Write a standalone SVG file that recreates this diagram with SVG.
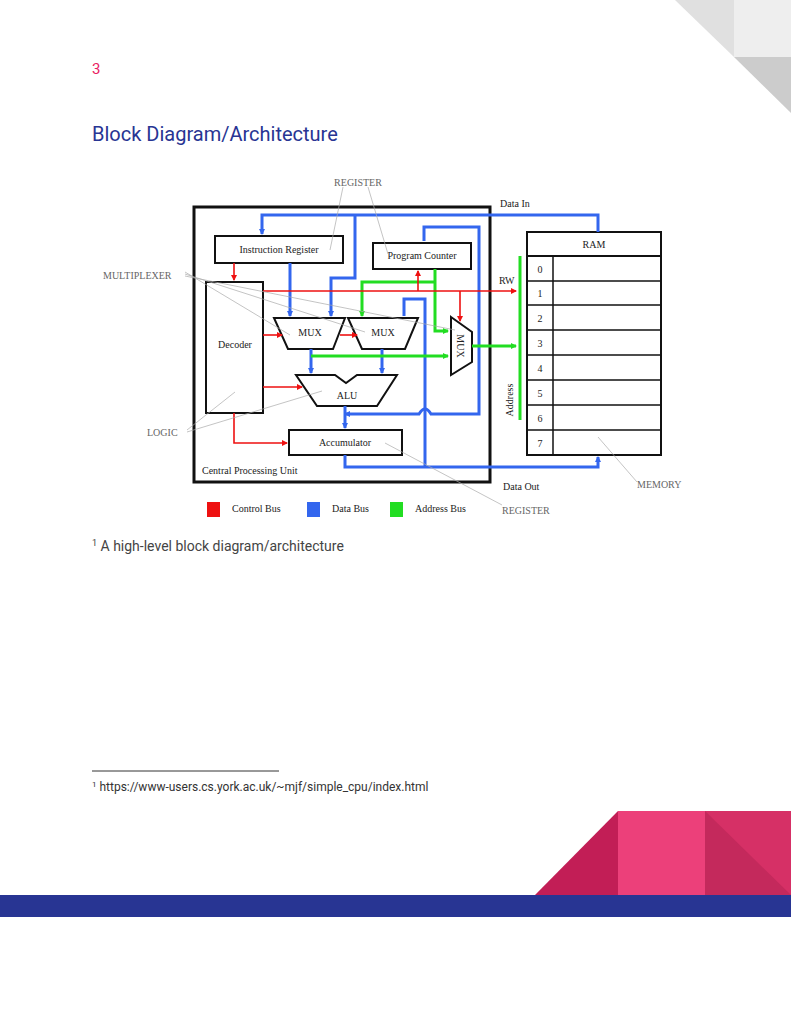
<svg xmlns="http://www.w3.org/2000/svg" width="791" height="1024" viewBox="0 0 791 1024">
<defs>
<marker id="ab" markerWidth="6" markerHeight="6" refX="5" refY="3" orient="auto" markerUnits="userSpaceOnUse" viewBox="0 0 6 6"><path d="M0,0 L6,3 L0,6 z" fill="#3366ee"/></marker>
<marker id="ar" markerWidth="6" markerHeight="6" refX="5" refY="3" orient="auto" markerUnits="userSpaceOnUse" viewBox="0 0 6 6"><path d="M0,0 L6,3 L0,6 z" fill="#ee1111"/></marker>
<marker id="ag" markerWidth="6" markerHeight="6" refX="5" refY="3" orient="auto" markerUnits="userSpaceOnUse" viewBox="0 0 6 6"><path d="M0,0 L6,3 L0,6 z" fill="#22dd22"/></marker>
</defs>
<style>
.box{fill:#fff;stroke:#111;stroke-width:2}
.t{font-family:"Liberation Serif",serif;font-size:10px;fill:#222}
.a{font-family:"Liberation Serif",serif;font-size:10px;fill:#666}
.b{fill:none;stroke:#3366ee;stroke-width:3}
.r{fill:none;stroke:#ee1111;stroke-width:1.6}
.g{fill:none;stroke:#22dd22;stroke-width:3}
.n{fill:none;stroke:#aaa;stroke-width:0.7}
</style>
<rect width="791" height="1024" fill="#fff"/>
<polygon points="675,0 734,0 734,57" fill="#e0e0e0"/>
<rect x="734" y="0" width="57" height="57" fill="#eeeeee"/>
<polygon points="734,57 791,57 791,113" fill="#cccccc"/>
<polygon points="535,895 618,811 618,895" fill="#c21e56"/>
<rect x="618" y="811" width="87" height="84" fill="#ec407a"/>
<rect x="705" y="811" width="86" height="84" fill="#d63066"/>
<polygon points="705,811 791,895 705,895" fill="#b82455" opacity="0.6"/>
<rect x="0" y="895" width="791" height="22" fill="#283593"/>
<text x="92" y="74" font-family="Roboto,sans-serif" font-size="15" fill="#e91e63">3</text>
<text x="92" y="141" font-family="Roboto,sans-serif" font-size="20" fill="#283593">Block Diagram/Architecture</text>
<text x="92" y="551" font-family="Roboto,sans-serif" font-size="14" fill="#444"><tspan font-size="9" dy="-5">1</tspan><tspan dy="5"> A high-level block diagram/architecture</tspan></text>
<line x1="92" y1="771" x2="279" y2="771" stroke="#333" stroke-width="1"/>
<text x="92" y="791" font-family="Roboto,sans-serif" font-size="12" fill="#333"><tspan font-size="8" dy="-4">1</tspan><tspan dy="4"> https://www-users.cs.york.ac.uk/~mjf/simple_cpu/index.html</tspan></text>

<g id="cpu"><rect x="194" y="207" width="296" height="275" fill="none" stroke="#111" stroke-width="3"/><text class="t" x="202" y="474">Central Processing Unit</text></g>
<g id="ir"><rect class="box" x="215" y="236" width="128" height="27"/><text class="t" x="279" y="253" text-anchor="middle">Instruction Register</text></g>
<g id="pc"><rect class="box" x="373" y="243" width="98" height="26"/><text class="t" x="422" y="259" text-anchor="middle">Program Counter</text></g>
<g id="decoder"><rect class="box" x="206" y="282" width="57" height="131"/><text class="t" x="235" y="348" text-anchor="middle">Decoder</text></g>
<g id="mux1"><polygon class="box" points="274,318 345,318 333,349 288,349"/><text class="t" x="310" y="336" text-anchor="middle" font-size="12">MUX</text></g>
<g id="mux2"><polygon class="box" points="348,318 418,318 405,349 362,349"/><text class="t" x="383" y="336" text-anchor="middle" font-size="12">MUX</text></g>
<g id="alu"><polygon class="box" points="296,375 335,375 346,383 357,375 397,375 377,406 317,406"/><text class="t" x="347" y="399" text-anchor="middle" font-size="12">ALU</text></g>
<g id="mux3"><polygon class="box" points="451,317 472,332 472,362 451,375"/><text class="t" x="0" y="0" text-anchor="middle" font-size="12" transform="translate(457,346) rotate(90)">MUX</text></g>
<g id="acc"><rect class="box" x="289" y="430" width="113" height="25"/><text class="t" x="345" y="446" text-anchor="middle">Accumulator</text></g>
<g id="ram"><rect class="box" x="527" y="232" width="134" height="223"/>
<line x1="527" y1="256" x2="661" y2="256" stroke="#111" stroke-width="2"/>
<g stroke="#111" stroke-width="1.5"><line x1="527" y1="281" x2="661" y2="281"/><line x1="527" y1="305" x2="661" y2="305"/><line x1="527" y1="330" x2="661" y2="330"/><line x1="527" y1="355" x2="661" y2="355"/><line x1="527" y1="380" x2="661" y2="380"/><line x1="527" y1="405" x2="661" y2="405"/><line x1="527" y1="430" x2="661" y2="430"/><line x1="553" y1="256" x2="553" y2="455"/></g>
<text class="t" x="594" y="248" text-anchor="middle">RAM</text>
<g class="t" text-anchor="middle"><text x="540" y="273">0</text><text x="540" y="297">1</text><text x="540" y="322">2</text><text x="540" y="347">3</text><text x="540" y="372">4</text><text x="540" y="397">5</text><text x="540" y="422">6</text><text x="540" y="447">7</text></g></g>

<g id="connectors">
<path class="b" d="M598,232 V215 H262 V234" marker-end="url(#ab)"/>
<path class="b" d="M355,215 V278 H331 V316" marker-end="url(#ab)"/>
<path class="b" d="M290,263 V316" marker-end="url(#ab)"/>
<path class="b" d="M424,241 V227 H479 V414 H431 Q425,404 419,414 H345" marker-end="url(#ab)"/>
<path class="b" d="M345,406 V428" marker-end="url(#ab)"/>
<path class="b" d="M311,349 V373" marker-end="url(#ab)"/>
<path class="b" d="M382,349 V373" marker-end="url(#ab)"/>
<path class="b" d="M404,316 V299 H425 V467"/>
<path class="b" d="M345,455 V467 H598 V457" marker-end="url(#ab)"/>
<path class="g" d="M311,356 H448" marker-end="url(#ag)"/>
<path class="g" d="M435,269 V331 H448" marker-end="url(#ag)"/>
<path class="g" d="M435,282 H362 V316" marker-end="url(#ag)"/>
<path class="g" d="M472,346 H516" marker-end="url(#ag)"/>
<line x1="520" y1="256" x2="520" y2="420" stroke="#22dd22" stroke-width="3"/>
<path class="r" d="M263,291 H516" marker-end="url(#ar)"/>
<path class="r" d="M418,291 V271" marker-end="url(#ar)"/>
<path class="r" d="M460,291 V321" marker-end="url(#ar)"/>
<path class="r" d="M234,263 V280" marker-end="url(#ar)"/>
<path class="r" d="M263,335 H282" marker-end="url(#ar)"/>
<path class="r" d="M340,335 H357" marker-end="url(#ar)"/>
<path class="r" d="M263,387 H302" marker-end="url(#ar)"/>
<path class="r" d="M234,413 V443 H287" marker-end="url(#ar)"/>
<path class="n" d="M343,187 L330,250 M368,187 L388,254 M185,272 L290,335 M185,274 L365,332 M185,276 L455,330 M187,430 L235,392 M187,432 L322,391 M637,482 L598,437 M502,505 L385,443"/>
</g>
<text class="a" x="358" y="186" text-anchor="middle">REGISTER</text>
<text class="a" x="103" y="279">MULTIPLEXER</text>
<text class="a" x="147" y="436">LOGIC</text>
<text class="a" x="637" y="488">MEMORY</text>
<text class="a" x="502" y="514">REGISTER</text>
<text class="t" x="500" y="207">Data In</text>
<text class="t" x="499" y="284" font-size="9">RW</text>
<text class="t" x="0" y="0" text-anchor="middle" transform="translate(513,400) rotate(-90)">Address</text>
<text class="t" x="503" y="490">Data Out</text>
<rect x="207" y="502" width="13" height="15" fill="#ee1111"/><text class="t" x="232" y="512">Control Bus</text>
<rect x="307" y="502" width="13" height="15" fill="#3366ee"/><text class="t" x="332" y="512">Data Bus</text>
<rect x="390" y="502" width="13" height="15" fill="#22dd22"/><text class="t" x="415" y="512">Address Bus</text>
</svg>
